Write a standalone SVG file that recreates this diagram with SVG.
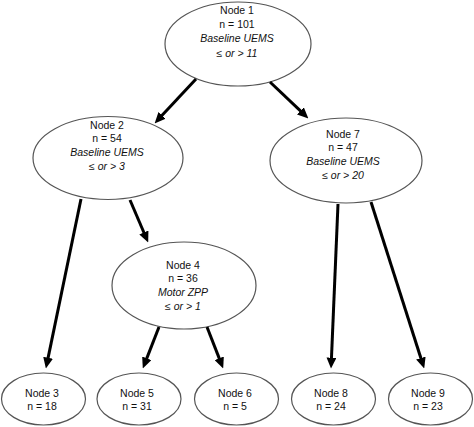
<svg xmlns="http://www.w3.org/2000/svg" width="474" height="427" viewBox="0 0 474 427">
<style>
.n{fill:#fff;stroke:#555;stroke-width:1.2}
text{font-family:"Liberation Sans",Arial,sans-serif;font-size:10.5px;fill:#111;text-anchor:middle}
.i{font-style:italic}
.c line{stroke:#000;stroke-width:3;marker-end:url(#ah)}
</style>
<defs>
<marker id="ah" markerUnits="userSpaceOnUse" markerWidth="11" markerHeight="10" refX="4" refY="4.5" orient="auto" viewBox="0 0 10 9">
<path d="M0,0 L10,4.5 L0,9 z" fill="#000"/>
</marker>
</defs>
<rect width="474" height="427" fill="#fff"/>
<g id="node1"><ellipse class="n" cx="238" cy="44" rx="73" ry="42"/>
<text x="237" y="13.5">Node 1</text><text x="237" y="28">n = 101</text><text class="i" x="237" y="42">Baseline UEMS</text><text class="i" x="237" y="56.5">≤ or &gt; 11</text></g>
<g id="node2"><ellipse class="n" cx="108" cy="158" rx="75" ry="41.5"/>
<text x="107" y="128.5">Node 2</text><text x="107" y="142">n = 54</text><text class="i" x="107" y="156">Baseline UEMS</text><text class="i" x="107" y="170">≤ or &gt; 3</text></g>
<g id="node7"><ellipse class="n" cx="346" cy="160.5" rx="76" ry="42.5"/>
<text x="343" y="137.5">Node 7</text><text x="343" y="151">n = 47</text><text class="i" x="343" y="165">Baseline UEMS</text><text class="i" x="343" y="179">≤ or &gt; 20</text></g>
<g id="node4"><ellipse class="n" cx="184" cy="285.5" rx="72" ry="43.5"/>
<text x="183" y="268.5">Node 4</text><text x="183" y="282">n = 36</text><text class="i" x="183" y="295.5">Motor ZPP</text><text class="i" x="183" y="309.5">≤ or &gt; 1</text></g>
<g id="node3"><ellipse class="n" cx="43.5" cy="399" rx="42" ry="26"/>
<text x="42" y="396.5">Node 3</text><text x="42" y="410">n = 18</text></g>
<g id="node5"><ellipse class="n" cx="139" cy="399" rx="42" ry="26"/>
<text x="137" y="396.5">Node 5</text><text x="137" y="410">n = 31</text></g>
<g id="node6"><ellipse class="n" cx="236.5" cy="399" rx="42" ry="26"/>
<text x="235" y="396.5">Node 6</text><text x="235" y="410">n = 5</text></g>
<g id="node8"><ellipse class="n" cx="333.5" cy="399" rx="42" ry="26"/>
<text x="331" y="396.5">Node 8</text><text x="331" y="410">n = 24</text></g>
<g id="node9"><ellipse class="n" cx="430.5" cy="399" rx="42" ry="26"/>
<text x="428" y="396.5">Node 9</text><text x="428" y="410">n = 23</text></g>
<g id="connectors" class="c">
<line x1="196" y1="79" x2="159.1" y2="118.6"/>
<line x1="270" y1="82" x2="303.6" y2="113.9"/>
<line x1="81" y1="199" x2="47.2" y2="362.1"/>
<line x1="130" y1="200" x2="145.6" y2="236.5"/>
<line x1="338" y1="204" x2="331.3" y2="362"/>
<line x1="371" y1="202" x2="422.2" y2="362.3"/>
<line x1="159" y1="327" x2="145.2" y2="362.4"/>
<line x1="207" y1="327" x2="220.8" y2="362.4"/>
</g>
</svg>
